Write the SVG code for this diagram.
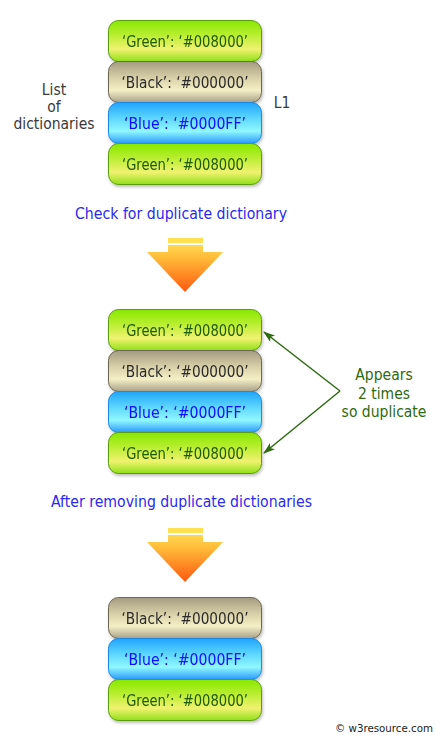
<svg xmlns="http://www.w3.org/2000/svg" width="443" height="744" viewBox="0 0 443 744">
<defs>
<linearGradient id="gGreen" x1="0" y1="0" x2="0" y2="1">
<stop offset="0" stop-color="#88e800"/>
<stop offset="0.35" stop-color="#b8ee30"/>
<stop offset="0.7" stop-color="#f0f270"/>
<stop offset="1" stop-color="#90e018"/>
</linearGradient>
<linearGradient id="gBlack" x1="0" y1="0" x2="0" y2="1">
<stop offset="0" stop-color="#a39b80"/>
<stop offset="0.4" stop-color="#d8d0a8"/>
<stop offset="0.7" stop-color="#f5efc6"/>
<stop offset="1" stop-color="#a8a088"/>
</linearGradient>
<linearGradient id="gBlue" x1="0" y1="0" x2="0" y2="1">
<stop offset="0" stop-color="#20a4ff"/>
<stop offset="0.4" stop-color="#60d8ff"/>
<stop offset="0.7" stop-color="#90f8ff"/>
<stop offset="1" stop-color="#2a98ff"/>
</linearGradient>
<linearGradient id="gArrow" x1="0" y1="0" x2="0" y2="1">
<stop offset="0" stop-color="#ffd850"/>
<stop offset="0.3" stop-color="#ffb838"/>
<stop offset="1" stop-color="#ff5810"/>
</linearGradient>
<filter id="sh" x="-10%" y="-20%" width="130%" height="150%">
<feDropShadow dx="1" dy="2" stdDeviation="1.5" flood-color="#000" flood-opacity="0.25"/>
</filter>
<marker id="ah" viewBox="0 0 12 8" refX="11" refY="4" markerWidth="12" markerHeight="8" markerUnits="userSpaceOnUse" orient="auto">
<path d="M0,0 L12,4 L0,8 L3,4 Z" fill="#2d6a10"/>
</marker>
</defs>
<style>
.box{filter:url(#sh);}
.green rect{fill:url(#gGreen);stroke:#5a9c10;stroke-width:1;}
.black rect{fill:url(#gBlack);stroke:#6e6852;stroke-width:1;}
.blue rect{fill:url(#gBlue);stroke:#1a88e8;stroke-width:1;}
.bt{font-family:"DejaVu Sans Condensed","DejaVu Sans",sans-serif;font-size:16px;text-anchor:middle;}
.green text{fill:#1f5a00;}
.black text{fill:#2a2a2a;}
.blue text{fill:#0a0aff;}
.lbl{font-family:"DejaVu Sans Condensed","DejaVu Sans",sans-serif;font-size:15.5px;text-anchor:middle;}
.cap{fill:#2a2aee;}
.note{fill:#2d6a10;}
.side{fill:#3a3a3a;}
.conn{stroke:#2d6a10;stroke-width:1.5;fill:none;marker-end:url(#ah);}
</style>

<g id="list-label"><text class="lbl side" x="54" y="95">List</text><text class="lbl side" x="54" y="112">of</text><text class="lbl side" x="54" y="129">dictionaries</text></g>
<g id="label-L1"><text class="lbl side" x="282" y="108" font-size="16">L1</text></g>

<g id="l1-green1" class="box green"><rect x="108.5" y="20.5" width="153" height="41" rx="10"/><text class="bt" x="185" y="46.5" textLength="126" lengthAdjust="spacingAndGlyphs">‘Green’: ‘#008000’</text></g>
<g id="l1-black" class="box black"><rect x="108.5" y="61.5" width="153" height="41" rx="10"/><text class="bt" x="185" y="87.5" textLength="127" lengthAdjust="spacingAndGlyphs">‘Black’: ‘#000000’</text></g>
<g id="l1-blue" class="box blue"><rect x="108.5" y="102.5" width="153" height="41" rx="10"/><text class="bt" x="185" y="128.5" textLength="122" lengthAdjust="spacingAndGlyphs">‘Blue’: ‘#0000FF’</text></g>
<g id="l1-green2" class="box green"><rect x="108.5" y="143.5" width="153" height="41" rx="10"/><text class="bt" x="185" y="169.5" textLength="126" lengthAdjust="spacingAndGlyphs">‘Green’: ‘#008000’</text></g>

<g id="caption1"><text class="lbl cap" x="181" y="219" textLength="212" lengthAdjust="spacingAndGlyphs">Check for duplicate dictionary</text></g>

<g id="arrow1"><rect x="168" y="238" width="35" height="5" fill="#ffe050"/><path d="M168,245 H203 V252 H223 L185,292 L147,252 H168 Z" fill="url(#gArrow)"/></g>

<g id="l2-green1" class="box green"><rect x="108.5" y="309.5" width="153" height="41" rx="10"/><text class="bt" x="185" y="335.5" textLength="126" lengthAdjust="spacingAndGlyphs">‘Green’: ‘#008000’</text></g>
<g id="l2-black" class="box black"><rect x="108.5" y="350.5" width="153" height="41" rx="10"/><text class="bt" x="185" y="376.5" textLength="127" lengthAdjust="spacingAndGlyphs">‘Black’: ‘#000000’</text></g>
<g id="l2-blue" class="box blue"><rect x="108.5" y="391.5" width="153" height="41" rx="10"/><text class="bt" x="185" y="417.5" textLength="122" lengthAdjust="spacingAndGlyphs">‘Blue’: ‘#0000FF’</text></g>
<g id="l2-green2" class="box green"><rect x="108.5" y="432.5" width="153" height="41" rx="10"/><text class="bt" x="185" y="458.5" textLength="126" lengthAdjust="spacingAndGlyphs">‘Green’: ‘#008000’</text></g>

<g id="note"><text class="lbl note" x="384" y="380">Appears</text><text class="lbl note" x="384" y="399">2 times</text><text class="lbl note" x="384" y="417">so duplicate</text></g>

<g id="connectors">
<path class="conn" d="M340,391 L264,332"/>
<path class="conn" d="M340,391 L264,453"/>
</g>

<g id="caption2"><text class="lbl cap" x="181.5" y="507" textLength="261" lengthAdjust="spacingAndGlyphs">After removing duplicate dictionaries</text></g>

<g id="arrow2"><rect x="168" y="528" width="35" height="5" fill="#ffe050"/><path d="M168,535 H203 V542 H223 L185,582 L147,542 H168 Z" fill="url(#gArrow)"/></g>

<g id="l3-black" class="box black"><rect x="108.5" y="597.5" width="153" height="41" rx="10"/><text class="bt" x="185" y="623.5" textLength="127" lengthAdjust="spacingAndGlyphs">‘Black’: ‘#000000’</text></g>
<g id="l3-blue" class="box blue"><rect x="108.5" y="638.5" width="153" height="41" rx="10"/><text class="bt" x="185" y="664.5" textLength="122" lengthAdjust="spacingAndGlyphs">‘Blue’: ‘#0000FF’</text></g>
<g id="l3-green" class="box green"><rect x="108.5" y="679.5" width="153" height="41" rx="10"/><text class="bt" x="185" y="705.5" textLength="126" lengthAdjust="spacingAndGlyphs">‘Green’: ‘#008000’</text></g>

<g id="watermark"><text x="335" y="732" font-family="DejaVu Sans, sans-serif" font-size="10.5" fill="#222" textLength="98" lengthAdjust="spacingAndGlyphs">© w3resource.com</text></g>
</svg>
